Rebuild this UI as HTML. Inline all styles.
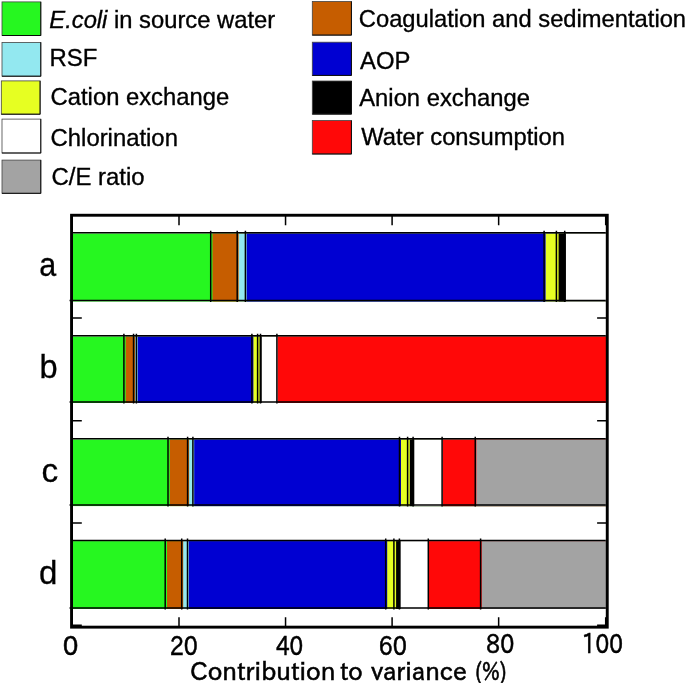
<!DOCTYPE html>
<html lang="en"><head><meta charset="utf-8"><title>Contribution to variance</title>
<style>html,body{margin:0;padding:0;background:#fff}svg{display:block}.lg{font-family:"Liberation Sans",Arial,Helvetica,sans-serif;font-size:24.2px;fill:#000;stroke:#000;stroke-width:0.35px}.row{font-family:"Liberation Sans",Arial,Helvetica,sans-serif;font-size:32.6px;fill:#000;stroke:#000;stroke-width:0.3px}.ax{font-family:"IPAPGothic","IPAGothic","Liberation Sans",sans-serif;font-size:26.7px;fill:#000;stroke:#000;stroke-width:0.6px}.ti{font-size:25px}</style></head><body>
<svg width="685" height="683" viewBox="0 0 685 683">
<rect x="0" y="0" width="685" height="683" fill="#fff"/>
<g stroke="#444" stroke-width="0.8">
<rect x="2" y="1.9" width="38.8" height="33.6" fill="#26F720"/>
<rect x="2" y="42.4" width="38.8" height="33.8" fill="#93E8F0"/>
<rect x="1.3" y="80.9" width="38.8" height="33.3" fill="#E6FF22"/>
<rect x="2" y="119.1" width="38.8" height="33.9" fill="#FFFFFF"/>
<rect x="2" y="160.1" width="38.8" height="33.2" fill="#A3A3A3"/>
<rect x="312.3" y="1.5" width="39.1" height="33.6" fill="#C65D00"/>
<rect x="312.3" y="42.2" width="39.1" height="33.2" fill="#0000D2"/>
<rect x="312.3" y="81.0" width="39.1" height="33.1" fill="#000000"/>
<rect x="312.3" y="120.5" width="39.1" height="33.5" fill="#FF0808"/>
<path d="M40.8 1.9V35.5H2M40.8 42.4V76.2H2M40.099999999999994 80.9V114.2H1.3M40.8 119.1V153.0H2M40.8 160.1V193.3H2M351.40000000000003 1.5V35.1H312.3M351.40000000000003 42.2V75.4H312.3M351.40000000000003 81.0V114.1H312.3M351.40000000000003 120.5V154.0H312.3" fill="none" stroke="#000" stroke-width="0.9"/>
</g>
<g class="lg">
<text x="49.31" y="28.1" textLength="225.83" lengthAdjust="spacingAndGlyphs"><tspan font-style="italic">E.coli</tspan> in source water</text>
<text x="49.42" y="66.2" textLength="47.85" lengthAdjust="spacingAndGlyphs">RSF</text>
<text x="50.62" y="105.2" textLength="178.51" lengthAdjust="spacingAndGlyphs">Cation exchange</text>
<text x="50.61" y="146.4" textLength="127.3" lengthAdjust="spacingAndGlyphs">Chlorination</text>
<text x="51.51" y="185.15" textLength="93.02" lengthAdjust="spacingAndGlyphs">C/E ratio</text>
<text x="358.82" y="27.1" textLength="327.25" lengthAdjust="spacingAndGlyphs">Coagulation and sedimentation</text>
<text x="360.05" y="69.0" textLength="50.33" lengthAdjust="spacingAndGlyphs">AOP</text>
<text x="359.25" y="105.5" textLength="170.62" lengthAdjust="spacingAndGlyphs">Anion exchange</text>
<text x="361.2" y="145.15" textLength="203.76" lengthAdjust="spacingAndGlyphs">Water consumption</text>
</g>
<g class="row">
<text x="39.23" y="275.7" textLength="16.95" lengthAdjust="spacingAndGlyphs">a</text>
<text x="39.5" y="378.2" textLength="18.12" lengthAdjust="spacingAndGlyphs">b</text>
<text x="41.42" y="481.6" textLength="16.7" lengthAdjust="spacingAndGlyphs">c</text>
<text x="38.93" y="584.2" textLength="18.37" lengthAdjust="spacingAndGlyphs">d</text>
</g>
<rect x="73.00" y="233.50" width="533.50" height="68.00" fill="#26F720"/>
<rect x="212.50" y="233.50" width="394.00" height="68.00" fill="#C65D00"/>
<rect x="238.70" y="233.50" width="367.80" height="68.00" fill="#93E8F0"/>
<rect x="246.70" y="233.50" width="359.80" height="68.00" fill="#0000D2"/>
<rect x="545.60" y="233.50" width="60.90" height="68.00" fill="#E6FF22"/>
<rect x="558.60" y="233.50" width="47.90" height="68.00" fill="#000000"/>
<rect x="565.90" y="233.50" width="40.60" height="68.00" fill="#FFFFFF"/>
<rect x="73.00" y="336.50" width="533.50" height="66.50" fill="#26F720"/>
<rect x="125.70" y="336.50" width="480.80" height="66.50" fill="#C65D00"/>
<rect x="135.05" y="336.50" width="471.45" height="66.50" fill="#93E8F0"/>
<rect x="137.70" y="336.50" width="468.80" height="66.50" fill="#0000D2"/>
<rect x="253.40" y="336.50" width="353.10" height="66.50" fill="#E6FF22"/>
<rect x="259.80" y="336.50" width="346.70" height="66.50" fill="#000000"/>
<rect x="261.70" y="336.50" width="344.80" height="66.50" fill="#FFFFFF"/>
<rect x="277.55" y="336.50" width="328.95" height="66.50" fill="#FF0808"/>
<rect x="73.00" y="439.50" width="533.50" height="66.60" fill="#26F720"/>
<rect x="169.80" y="439.50" width="436.70" height="66.60" fill="#C65D00"/>
<rect x="189.10" y="439.50" width="417.40" height="66.60" fill="#93E8F0"/>
<rect x="194.20" y="439.50" width="412.30" height="66.60" fill="#0000D2"/>
<rect x="401.00" y="439.50" width="205.50" height="66.60" fill="#E6FF22"/>
<rect x="409.80" y="439.50" width="196.70" height="66.60" fill="#000000"/>
<rect x="414.30" y="439.50" width="192.20" height="66.60" fill="#FFFFFF"/>
<rect x="442.75" y="439.50" width="163.75" height="66.60" fill="#FF0808"/>
<rect x="476.35" y="439.50" width="130.15" height="66.60" fill="#A3A3A3"/>
<rect x="73.00" y="541.10" width="533.50" height="67.90" fill="#26F720"/>
<rect x="167.00" y="541.10" width="439.50" height="67.90" fill="#C65D00"/>
<rect x="183.20" y="541.10" width="423.30" height="67.90" fill="#93E8F0"/>
<rect x="188.80" y="541.10" width="417.70" height="67.90" fill="#0000D2"/>
<rect x="387.20" y="541.10" width="219.30" height="67.90" fill="#E6FF22"/>
<rect x="396.10" y="541.10" width="210.40" height="67.90" fill="#000000"/>
<rect x="400.60" y="541.10" width="205.90" height="67.90" fill="#FFFFFF"/>
<rect x="428.95" y="541.10" width="177.55" height="67.90" fill="#FF0808"/>
<rect x="481.70" y="541.10" width="124.80" height="67.90" fill="#A3A3A3"/>
<g stroke="#000" stroke-width="1.5" fill="none">
<path d="M71.55 232.8H605.8M69.55 300.5H605.8"/>
<path d="M210.70 230.8V302.0M237.20 230.8V302.0M245.40 230.8V302.0M544.10 230.8V302.0M556.40 230.8V302.0M564.70 230.8V302.0"/>
<path d="M71.55 335.8H605.8M69.55 402.0H605.8"/>
<path d="M123.90 333.8V403.5M133.55 333.8V403.5M136.40 333.8V403.5M251.90 333.8V403.5M257.60 333.8V403.5M260.50 333.8V403.5M276.90 333.8V403.5"/>
<path d="M71.55 438.8H605.8M69.55 505.1H605.8"/>
<path d="M168.00 436.8V506.6M187.60 436.8V506.6M192.90 436.8V506.6M399.50 436.8V506.6M407.60 436.8V506.6M413.10 436.8V506.6M442.10 436.8V506.6M475.25 436.8V506.6"/>
<path d="M71.55 540.4H605.8M69.55 608.0H605.8"/>
<path d="M165.20 538.4V609.5M181.70 538.4V609.5M187.50 538.4V609.5M385.70 538.4V609.5M393.90 538.4V609.5M399.40 538.4V609.5M428.30 538.4V609.5M480.60 538.4V609.5"/>
<path d="M71.55 318.1H81.8M607.25 318.1H597.1M71.55 420.7H81.8M607.25 420.7H597.1M71.55 522.9H81.8M607.25 522.9H597.1M71.55 625.3H81.8M607.25 625.3H597.1" stroke-width="1.5"/>
<path d="M179.00 215.25V225.2M179.00 627.15V617.2M285.55 215.25V225.2M285.55 627.15V617.2M392.10 215.25V225.2M392.10 627.15V617.2M498.65 215.25V225.2M498.65 627.15V617.2M605.70 215.25V225.2M605.70 627.15V617.2" stroke-width="1.5"/>
</g>
<rect x="71.55" y="215.25" width="535.7" height="411.9" fill="none" stroke="#000" stroke-width="2.9"/>
<g class="ax">
<text x="62.64" y="655.0" textLength="15.65" lengthAdjust="spacingAndGlyphs">0</text>
<text x="169.75" y="654.7" textLength="28.09" lengthAdjust="spacingAndGlyphs">20</text>
<text x="275.89" y="654.7" textLength="27.32" lengthAdjust="spacingAndGlyphs">40</text>
<text x="378.62" y="654.5" textLength="28.43" lengthAdjust="spacingAndGlyphs">60</text>
<text x="486.05" y="653.4" textLength="28.19" lengthAdjust="spacingAndGlyphs">80</text>
<text x="581.76" y="652.8" textLength="41.21" lengthAdjust="spacingAndGlyphs">100</text>
<text class="ti" x="189.98" y="680" textLength="145.57" lengthAdjust="spacingAndGlyphs">Contribution</text>
<text class="ti" x="340.02" y="680" textLength="22.75" lengthAdjust="spacingAndGlyphs">to</text>
<text class="ti" x="371.24" y="680" textLength="95.55" lengthAdjust="spacingAndGlyphs">variance</text>
<text class="ti" x="474.94" y="680" textLength="31.85" lengthAdjust="spacingAndGlyphs">(%)</text>
</g>
</svg></body></html>
